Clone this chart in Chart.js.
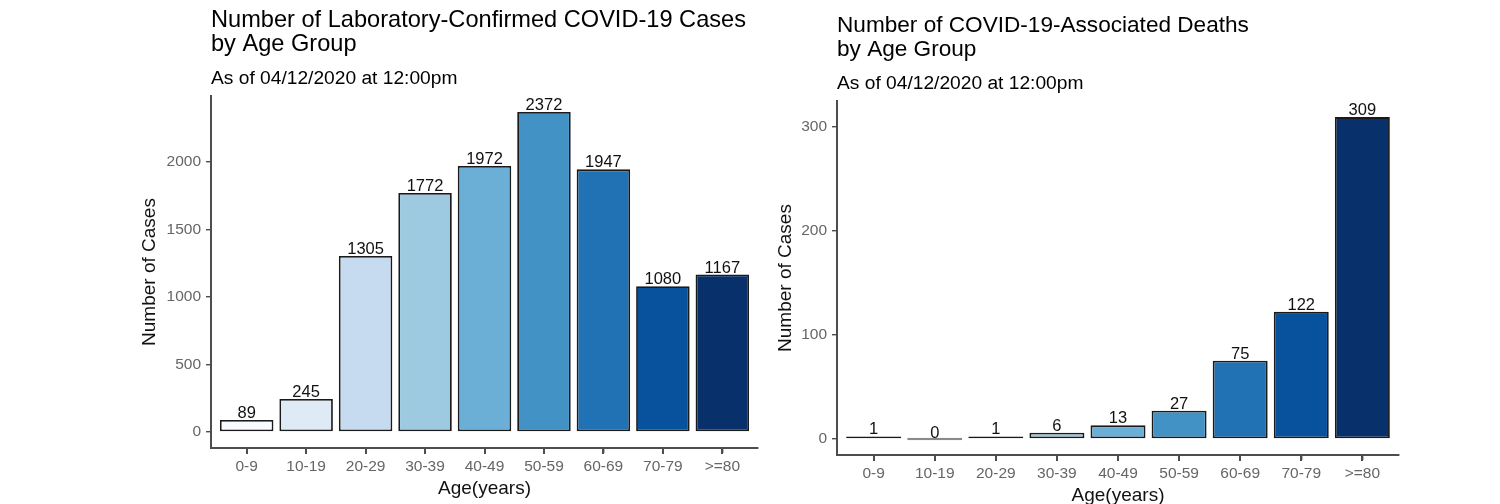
<!DOCTYPE html>
<html>
<head>
<meta charset="utf-8">
<script src="https://cdn.jsdelivr.net/npm/chart.js@4"></script>
<style>
  body { margin: 0; background: #fff; }
  canvas { position: absolute; top: 0; }
  #casesChart { left: 0; }
  #deathsChart { left: 760px; }
</style>
</head>
<body>
<canvas id="casesChart" width="780" height="504"></canvas>
<canvas id="deathsChart" width="740" height="504"></canvas>
<script>
const ageGroups = ['0-9', '10-19', '20-29', '30-39', '40-49', '50-59', '60-69', '70-79', '>=80'];
const caseCounts = [89, 245, 1305, 1772, 1972, 2372, 1947, 1080, 1167];
const deathCounts = [1, 0, 1, 6, 13, 27, 75, 122, 309];
const caseTicks = [0, 500, 1000, 1500, 2000];
const deathTicks = [0, 100, 200, 300];
const blues = ['#f7fbff', '#deebf7', '#c6dbef', '#9ecae1', '#6baed6', '#4292c6', '#2171b5', '#08519c', '#08306b'];

Chart.defaults.font.family = '"Liberation Sans", Arial, sans-serif';
Chart.defaults.color = '#111';

// titles above the panel, aligned with the y axis
const headings = {
	id: 'headings',
	afterDraw(chart, args, opts) {
		const { ctx, chartArea } = chart;
		ctx.save();
		ctx.fillStyle = '#000';
		ctx.textAlign = 'left';
		ctx.textBaseline = 'alphabetic';
		ctx.font = opts.size + 'px "Liberation Sans", Arial, sans-serif';
		ctx.fillText(opts.lines[0], chartArea.left, chartArea.top - 69);
		ctx.fillText(opts.lines[1], chartArea.left, chartArea.top - 45);
		ctx.font = '19.2px "Liberation Sans", Arial, sans-serif';
		ctx.fillText(opts.sub, chartArea.left, chartArea.top - 12.5);
		ctx.restore();
	}
};

// value on top of every bar, plus the small x tick marks
const barLabels = {
	id: 'barLabels',
	afterDraw(chart) {
		const { ctx, chartArea } = chart;
		const meta = chart.getDatasetMeta(0);
		const values = chart.data.datasets[0].data;
		const xScale = chart.scales.x;
		ctx.save();
		ctx.strokeStyle = '#4d4d4d';
		ctx.lineWidth = 2;
		xScale.ticks.forEach(t => {
			const px = Math.round(xScale.getPixelForValue(t.value));
			ctx.beginPath();
			ctx.moveTo(px, chartArea.bottom);
			ctx.lineTo(px, chartArea.bottom + 6);
			ctx.stroke();
		});
		ctx.fillStyle = '#111';
		ctx.textAlign = 'center';
		ctx.textBaseline = 'alphabetic';
		ctx.font = '16.5px "Liberation Sans", Arial, sans-serif';
		meta.data.forEach((bar, i) => {
			ctx.fillText(values[i].y, bar.x, bar.y - 2);
		});
		ctx.restore();
	}
};

const makeChart = (id, counts, ticks, cfg) => {
	const top = Math.max(...counts);
	return new Chart(document.getElementById(id), {
		type: 'bar',
		data: {
			datasets: [{
				data: counts.map((v, i) => ({ x: i, y: v })),
				backgroundColor: blues,
				borderColor: ctx => (counts[ctx.dataIndex] === 0 ? '#8a8a8a' : '#1a1a1a'),
				borderWidth: 1.8,
				borderSkipped: false,
				minBarLength: 2.5,
				barPercentage: 0.9,
				categoryPercentage: 1
			}]
		},
		options: {
			responsive: false,
			animation: false,
			layout: { padding: cfg.padding },
			plugins: {
				legend: { display: false },
				tooltip: { enabled: false },
				headings: cfg.headings
			},
			scales: {
				x: {
					type: 'linear',
					offset: false,
					min: -0.6,
					max: ageGroups.length - 0.4,
					afterBuildTicks: s => { s.ticks = ageGroups.map((_, i) => ({ value: i })); },
					afterFit: s => { s.height = cfg.xHeight; },
					ticks: {
						callback: v => ageGroups[v],
						color: '#666',
						font: { size: 15.5 },
						padding: 4,
						autoSkip: false,
						maxRotation: 0
					},
					grid: { display: true, offset: false, drawOnChartArea: false, drawTicks: true, tickLength: 5, color: '#4d4d4d', lineWidth: 1.4 },
					border: { display: true, color: '#4d4d4d', width: 2 },
					title: {
						display: true,
						text: 'Age(years)',
						color: '#111',
						font: { size: 19, lineHeight: 1.2 },
						padding: { top: 0, bottom: cfg.xTitlePad }
					}
				},
				y: {
					type: 'linear',
					min: -top * 0.05,
					max: top * 1.05,
					afterBuildTicks: s => { s.ticks = ticks.map(v => ({ value: v })); },
					afterFit: s => { s.width = cfg.yWidth; },
					ticks: { callback: v => String(v), color: '#666', font: { size: 15.5 }, padding: 5 },
					grid: { display: true, drawOnChartArea: false, drawTicks: true, tickLength: 5, color: '#4d4d4d', lineWidth: 1.4 },
					border: { display: true, color: '#4d4d4d', width: 2 },
					title: {
						display: true,
						text: 'Number of Cases',
						color: '#111',
						font: { size: 19, lineHeight: 1.2 },
						padding: { top: 0, bottom: 0 }
					}
				}
			}
		},
		plugins: [headings, barLabels]
	});
};

makeChart('casesChart', caseCounts, caseTicks, {
	padding: { left: 138.6, top: 96, right: 22, bottom: 0 },
	yWidth: 72.4,
	xHeight: 56,
	xTitlePad: 3.6,
	headings: {
		size: 23.6,
		lines: ['Number of Laboratory-Confirmed COVID-19 Cases', 'by Age Group'],
		sub: 'As of 04/12/2020 at 12:00pm'
	}
});

makeChart('deathsChart', deathCounts, deathTicks, {
	padding: { left: 14.6, top: 101, right: 101, bottom: 0 },
	yWidth: 62.4,
	xHeight: 49,
	xTitlePad: -3.4,
	headings: {
		size: 22.6,
		lines: ['Number of COVID-19-Associated Deaths', 'by Age Group'],
		sub: 'As of 04/12/2020 at 12:00pm'
	}
});
</script>
</body>
</html>
